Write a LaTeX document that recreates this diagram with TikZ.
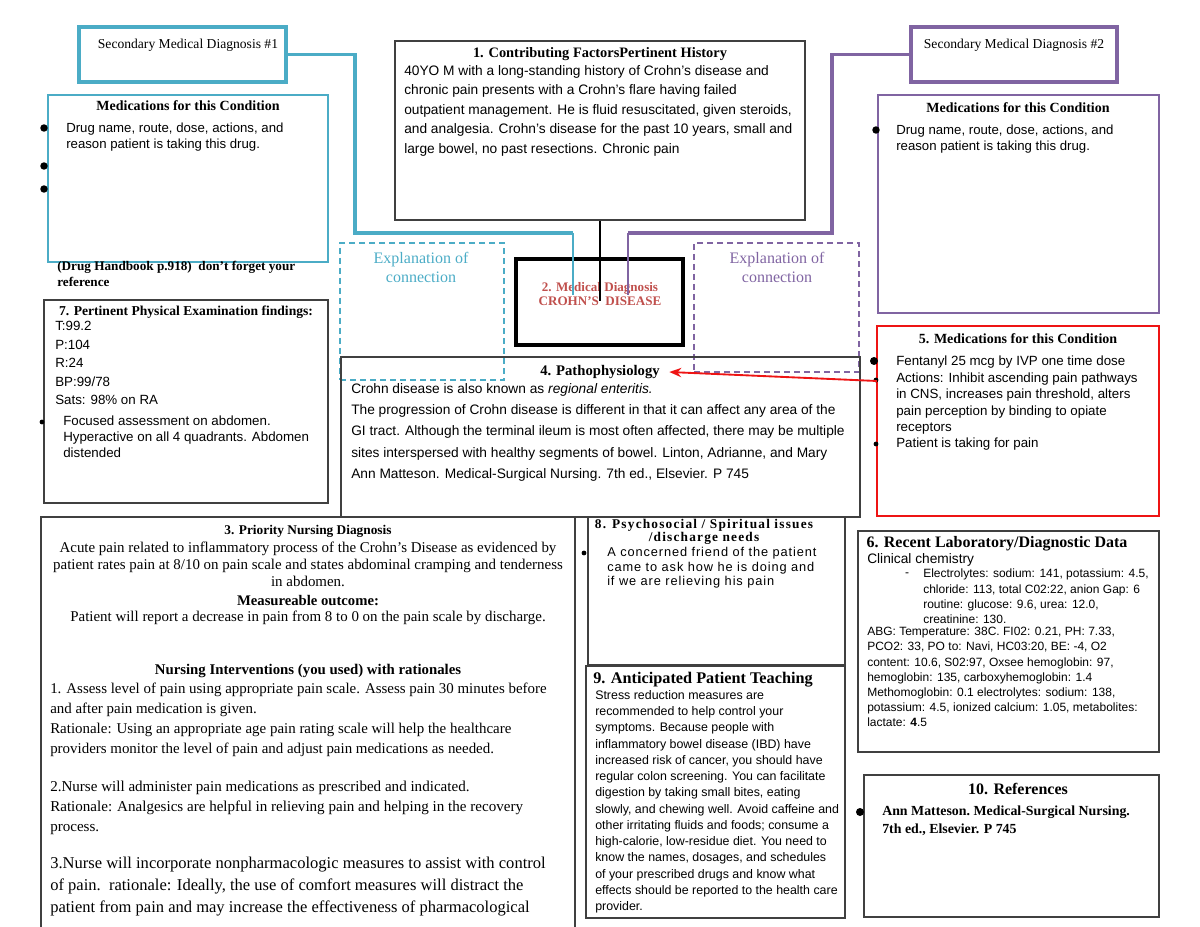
\documentclass[tikz,border=0pt]{standalone}
\usepackage{fontspec}
\setmainfont{Liberation Serif}
\setsansfont{Liberation Sans}
\usepackage{tikz}
\usetikzlibrary{positioning, arrows.meta, fit}
\definecolor{aqua}{RGB}{75,172,198}
\definecolor{plum}{RGB}{128,100,162}
\definecolor{edge}{RGB}{64,64,64}
\definecolor{dxred}{RGB}{192,80,77}
\definecolor{alert}{RGB}{238,20,20}
\newcommand{\txtsize}[2]{\fontsize{#1}{#2}\selectfont}

\begin{document}
\begin{tikzpicture}[x=0.75pt, y=-0.75pt,
  box/.style={draw=edge, line width=0.9pt, inner sep=0pt},
  aquabox/.style={draw=aqua, line width=0.9pt, inner sep=0pt},
  plumbox/.style={draw=plum, line width=0.9pt, inner sep=0pt},
  secbox/.style={line width=2.6pt, inner sep=0pt},
  dxbox/.style={draw=black, line width=2.6pt, inner sep=0pt},
  explbox/.style={line width=0.9pt, dash pattern=on 4.5pt off 3pt, inner sep=0pt},
  head/.style={font=\bfseries\txtsize{10.5}{12}, inner sep=0pt},
  body/.style={font=\sffamily\txtsize{9.9}{12}, align=left, anchor=north west, inner sep=0pt},
  serifbody/.style={font=\txtsize{11.2}{12.8}, align=center, inner sep=0pt},
  link/.style={line width=2.6pt},
  thinlink/.style={line width=0.8pt},
  relay/.style={-{Stealth[length=9pt, width=7pt]}, line width=1.4pt, color=alert},
  dot/.style={fill=black},
]
  \useasboundingbox (0,0) rectangle (1200,927);
  \begin{scope}
  \clip (0,0) rectangle (1200,927);

  % Secondary diagnoses
  \node[secbox, draw=aqua, fit={(79,27) (286,82)}] (sec1) {};
  \node[font=\txtsize{10.2}{11}, inner sep=0pt] (sec1t) at (188,45) {Secondary Medical Diagnosis \#1};
  \node[secbox, draw=plum, fit={(911,27) (1117,82)}] (sec2) {};
  \node[font=\txtsize{10.2}{11}, inner sep=0pt] (sec2t) at (1014,45) {Secondary Medical Diagnosis \#2};

  % 1. Contributing factors
  \node[box, fit={(395,41) (805,220)}] (hist) {};
  \node[head, font=\bfseries\txtsize{10.8}{12}] (histt) at (600,54) {1. Contributing FactorsPertinent History};
  \node[body, font=\sffamily\txtsize{10.3}{14.6}] (histb) at (404,65)
    {40YO M with a long-standing history of Crohn's disease and\\
     chronic pain presents with a Crohn's flare having failed\\
     outpatient management. He is fluid resuscitated, given steroids,\\
     and analgesia. Crohn's disease for the past 10 years, small and\\
     large bowel, no past resections. Chronic pain};

  % Medications (secondary)
  \node[aquabox, fit={(48,95) (328,262)}] (medL) {};
  \node[head] (medLt) at (188,106) {Medications for this Condition};
  \node[body] (medLb) at (66,123) {Drug name, route, dose, actions, and\\reason patient is taking this drug.};
  \node[body, font=\bfseries\txtsize{9.9}{12}] (medLref) at (57,261) {(Drug Handbook p.918)\ \ don't forget your\\reference};
  \fill[dot] (44,128) circle (2.8pt);
  \fill[dot] (44,166) circle (2.8pt);
  \fill[dot] (44,189) circle (2.8pt);

  \node[plumbox, fit={(878,95) (1159,313)}] (medR) {};
  \node[head] (medRt) at (1018,108) {Medications for this Condition};
  \node[body] (medRb) at (896,125) {Drug name, route, dose, actions, and\\reason patient is taking this drug.};
  \fill[dot] (876,130) circle (2.8pt);

  % Explanation of connection
  \node[explbox, draw=aqua, fit={(340,243) (504,380)}] (explL) {};
  \node[serifbody, font=\txtsize{12}{14.2}, text=aqua] (explLt) at (421,267) {Explanation of\\connection};
  \node[explbox, draw=plum, fit={(694,243) (859,372)}] (explR) {};
  \node[serifbody, font=\txtsize{12}{14.2}, text=plum] (explRt) at (777,267) {Explanation of\\connection};

  % 2. Medical diagnosis
  \node[dxbox, fit={(516,259) (683,345)}] (dx) {};
  \node[serifbody, font=\bfseries\txtsize{9.8}{10.6}, text=dxred] (dxt) at (600,294) {2. Medical Diagnosis\\CROHN'S\ \ DISEASE};

  % connectors into the diagnosis
  \coordinate (joinL) at (573,233);
  \coordinate (joinR) at (628,233);
  \draw[link, aqua] (sec1.east) -| (355,233) -- (joinL);
  \draw[thinlink, aqua] (joinL) -- ++(0,62);
  \draw[link, plum] (sec2.west) -| (832,233) -- (joinR);
  \draw[thinlink, plum] (joinR) -- ++(0,62);
  \draw[thinlink, black] (hist.south) -- ++(0,80);

  % 4. Pathophysiology
  \node[box, fit={(341,357) (860,517)}] (patho) {};
  \node[head, font=\bfseries\txtsize{11}{12}] (pathot) at (600,372) {4. Pathophysiology};
  \node[body, font=\sffamily\txtsize{10.3}{16}] (pathob) at (351,383)
    {Crohn disease is also known as \textit{regional enteritis.}\\
     The progression of Crohn disease is different in that it can affect any area of the\\
     GI tract. Although the terminal ileum is most often affected, there may be multiple\\
     sites interspersed with healthy segments of bowel. Linton, Adrianne, and Mary\\
     Ann Matteson. Medical-Surgical Nursing. 7th ed., Elsevier. P 745};

  % 5. Medications
  \node[box, draw=alert, fit={(877,326) (1159,516)}] (med5) {};
  \node[head] (med5t) at (1018,339) {5. Medications for this Condition};
  \node[body, font=\sffamily\txtsize{10}{12.3}] (med5b) at (896,356)
    {Fentanyl 25 mcg by IVP one time dose\\
     Actions: Inhibit ascending pain pathways\\
     in CNS, increases pain threshold, alters\\
     pain perception by binding to opiate\\
     receptors\\
     Patient is taking for pain};
  \fill[dot] (874,361) circle (3pt);
  \fill[dot] (876,380) circle (1.8pt);
  \fill[dot] (876,444) circle (1.8pt);
  \coordinate (medlink) at (877,381);
  \draw[relay] (medlink) -- ([xshift=7pt]pathot.east);

  % 7. Physical examination
  \node[box, fit={(44,300) (328,503)}] (exam) {};
  \node[head, font=\bfseries\txtsize{10.2}{11}] (examt) at (186,312) {7. Pertinent Physical Examination findings:};
  \node[body, font=\sffamily\txtsize{10}{13.9}] (examb) at (55,321)
    {T:99.2\\P:104\\R:24\\BP:99/78\\Sats: 98\% on RA};
  \node[body, font=\sffamily\txtsize{10}{11.7}] (examf) at (63,416)
    {Focused assessment on abdomen.\\
     Hyperactive on all 4 quadrants. Abdomen\\
     distended};
  \fill[dot] (42,422) circle (1.8pt);

  % 3. Priority nursing diagnosis
  \node[box, fit={(41,517) (575,940)}] (prio) {};
  \node[head, font=\bfseries\txtsize{10}{12}] (priot) at (308,531) {3. Priority Nursing Diagnosis};
  \node[serifbody, anchor=north] (priob) at (308,542)
    {Acute pain related to inflammatory process of the Crohn's Disease as evidenced by\\
     patient rates pain at 8/10 on pain scale and states abdominal cramping and tenderness\\
     in abdomen.};
  \node[head, font=\bfseries\txtsize{11}{12}] (outt) at (308,601) {Measureable outcome:};
  \node[serifbody] (outb) at (308,618) {Patient will report a decrease in pain from 8 to 0 on the pain scale by discharge.};
  \node[head, font=\bfseries\txtsize{11.1}{12}] (intt) at (308,671) {Nursing Interventions (you used) with rationales};
  \node[body, font=\txtsize{11.2}{15}] (int1) at (50,683)
    {1. Assess level of pain using appropriate pain scale. Assess pain 30 minutes before\\
     and after pain medication is given.\\
     Rationale: Using an appropriate age pain rating scale will help the healthcare\\
     providers monitor the level of pain and adjust pain medications as needed.};
  \node[body, font=\txtsize{11.3}{15}] (int2) at (50,781)
    {2.Nurse will administer pain medications as prescribed and indicated.\\
     Rationale: Analgesics are helpful in relieving pain and helping in the recovery\\
     process.};
  \node[body, font=\txtsize{12.4}{16.5}] (int3) at (50,857)
    {3.Nurse will incorporate nonpharmacologic measures to assist with control\\
     of pain.\ \ rationale: Ideally, the use of comfort measures will distract the\\
     patient from pain and may increase the effectiveness of pharmacological};

  % 8. Psychosocial
  \node[box, fit={(588,517) (845,665)}] (psy) {};
  \node[serifbody, font=\bfseries\txtsize{10}{10.2}\addfontfeature{LetterSpace=9}] (psyt) at (704,532) {8. Psychosocial / Spiritual issues\\/discharge needs};
  \node[body, font=\sffamily\txtsize{9.6}{10.9}\addfontfeature{LetterSpace=7}] (psyb) at (607,547)
    {A concerned friend of the patient\\
     came to ask how he is doing and\\
     if we are relieving his pain};
  \fill[dot] (584,553) circle (1.8pt);

  % 9. Patient teaching
  \node[box, fit={(586,666) (845,918)}] (teach) {};
  \node[head, font=\bfseries\txtsize{12.2}{13}] (teacht) at (703,680) {9. Anticipated Patient Teaching};
  \node[body, font=\sffamily\txtsize{9.3}{12.2}] (teachb) at (595,690)
    {Stress reduction measures are\\
     recommended to help control your\\
     symptoms. Because people with\\
     inflammatory bowel disease (IBD) have\\
     increased risk of cancer, you should have\\
     regular colon screening. You can facilitate\\
     digestion by taking small bites, eating\\
     slowly, and chewing well. Avoid caffeine and\\
     other irritating fluids and foods; consume a\\
     high-calorie, low-residue diet. You need to\\
     know the names, dosages, and schedules\\
     of your prescribed drugs and know what\\
     effects should be reported to the health care\\
     provider.};

  % 6. Laboratory data
  \node[box, fit={(858,531) (1159,752)}] (lab) {};
  \node[head, font=\bfseries\txtsize{12}{13}] (labt) at (997,544) {6. Recent Laboratory/Diagnostic Data};
  \node[body, font=\sffamily\txtsize{10.3}{11}] (labc) at (867,553) {Clinical chemistry};
  \node[font=\sffamily\txtsize{9}{11.5}, inner sep=0pt] (labdash) at (907,575) {-};
  \node[body, font=\sffamily\txtsize{9}{11.5}] (labe) at (923,569)
    {Electrolytes: sodium: 141, potassium: 4.5,\\
     chloride: 113, total C02:22, anion Gap: 6\\
     routine: glucose: 9.6, urea: 12.0,\\
     creatinine: 130.};
  \node[body, font=\sffamily\txtsize{9}{11.4}] (labg) at (867,627)
    {ABG: Temperature: 38C. FI02: 0.21, PH: 7.33,\\
     PCO2: 33, PO to: Navi, HC03:20, BE: -4, O2\\
     content: 10.6, S02:97, Oxsee hemoglobin: 97,\\
     hemoglobin: 135, carboxyhemoglobin: 1.4\\
     Methomoglobin: 0.1 electrolytes: sodium: 138,\\
     potassium: 4.5, ionized calcium: 1.05, metabolites:\\
     lactate: \textbf{4}.5};

  % 10. References
  \node[box, fit={(864,775) (1159,917)}] (refs) {};
  \node[head, font=\bfseries\txtsize{12}{13}] (refst) at (1018,789) {10. References};
  \node[body, font=\bfseries\txtsize{10.4}{13.5}] (refsb) at (882,806)
    {Ann Matteson.\ Medical-Surgical Nursing.\\7th ed., Elsevier. P\ 745};
  \fill[dot] (860,812) circle (3pt);
  \end{scope}
\end{tikzpicture}
\end{document}
